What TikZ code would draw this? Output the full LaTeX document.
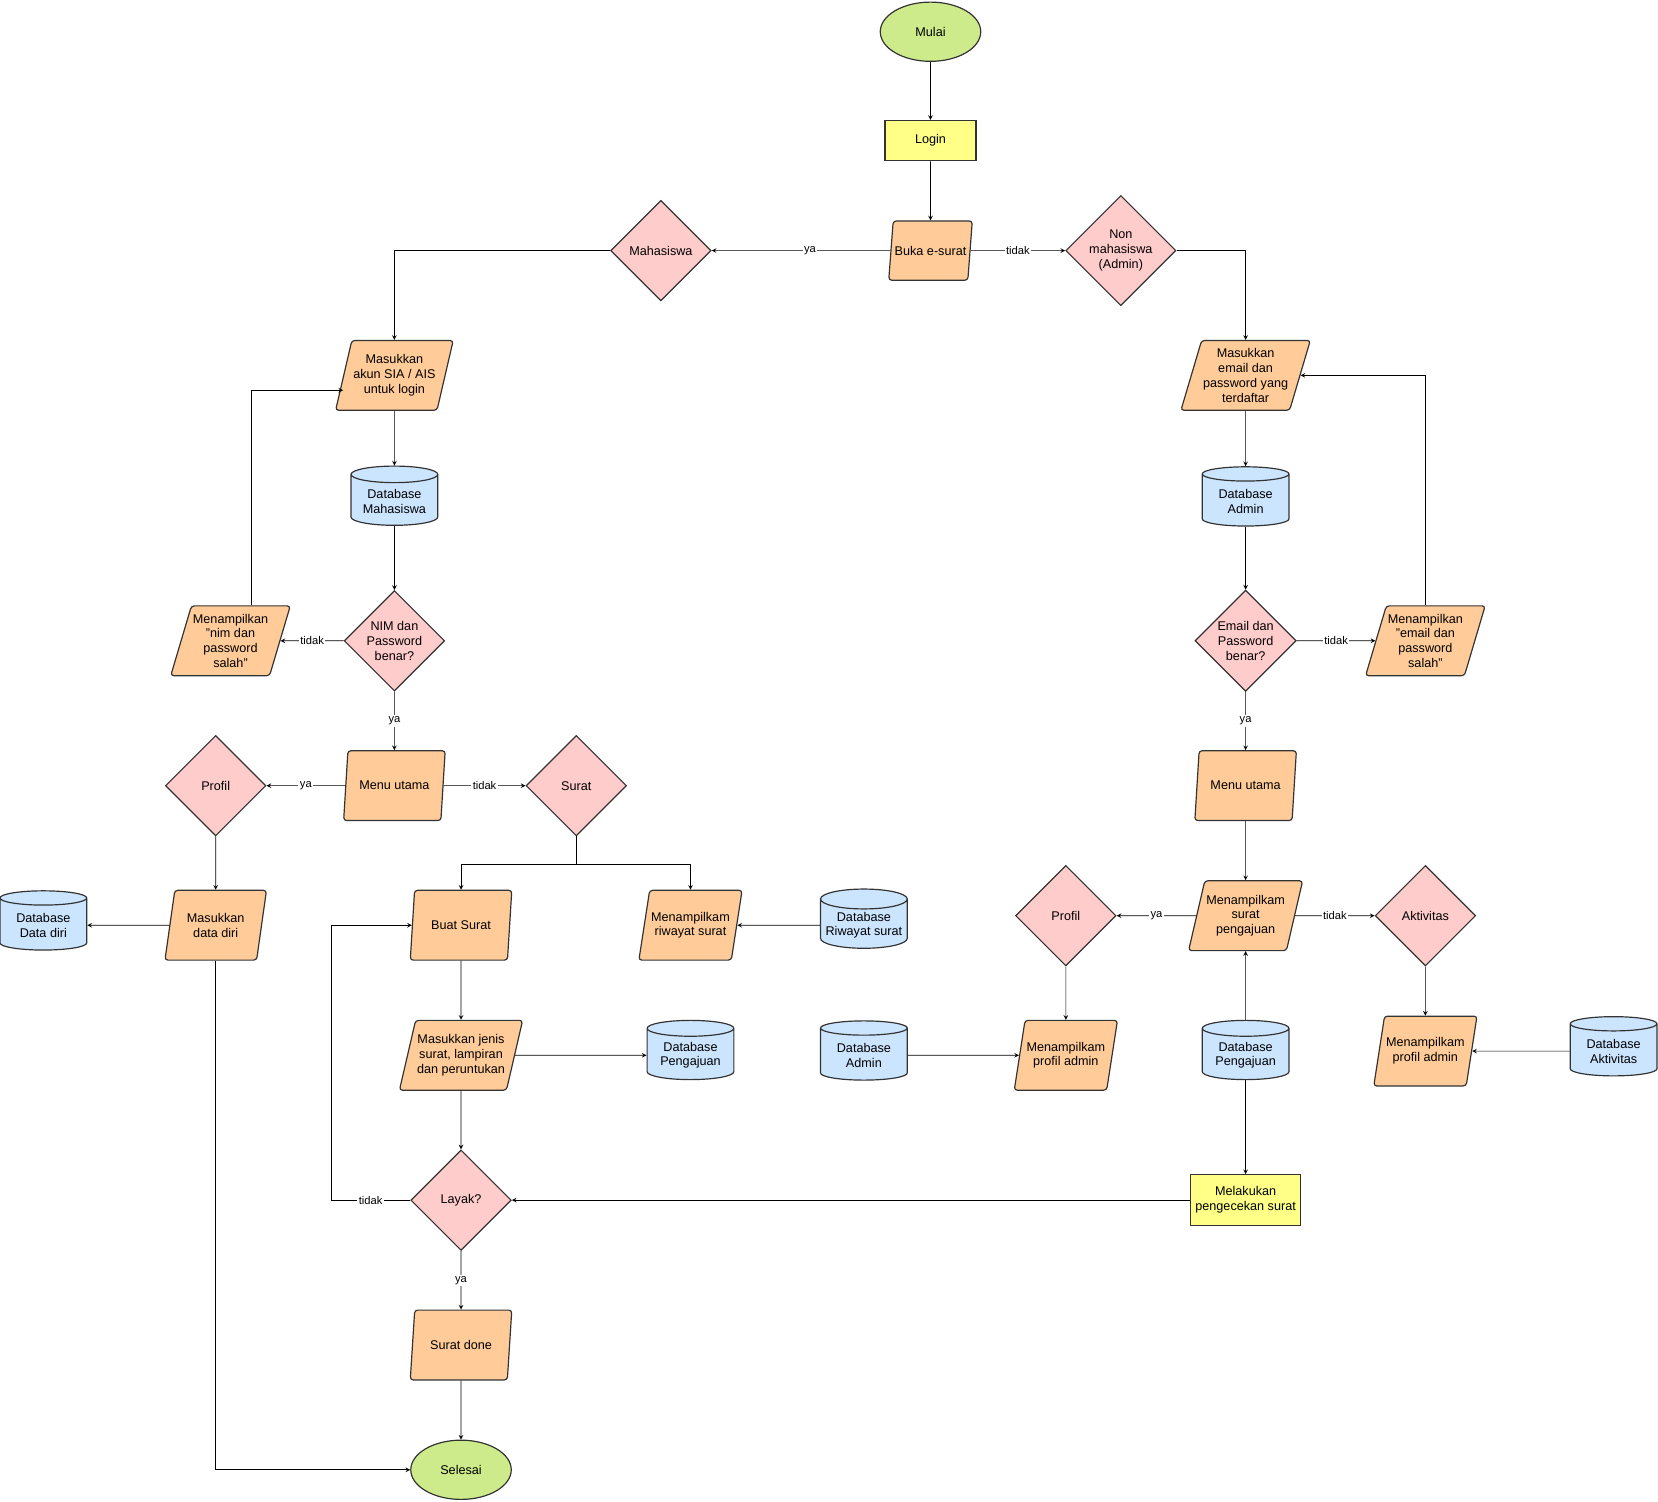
\documentclass[tikz,border=0pt]{standalone}
\usepackage{fontspec}
\setmainfont{Liberation Sans}
\usetikzlibrary{positioning, shapes.geometric, arrows}
\definecolor{cgreen}{HTML}{CDEB8B}
\definecolor{cyellow}{HTML}{FFFF88}
\definecolor{corange}{HTML}{FFCC99}
\definecolor{cpink}{HTML}{FFCCCC}
\definecolor{cblue}{HTML}{CCE5FF}
\tikzset{
  base/.style={draw=black!80, thick, align=center, font=\fontsize{8.5}{10}\selectfont, inner sep=1pt},
  term/.style={base, ellipse, fill=cgreen, minimum width=2.375cm, minimum height=1.4cm},
  proc/.style={base, rectangle, fill=cyellow},
  io/.style={base, trapezium, trapezium left angle=70, trapezium right angle=110, trapezium stretches body, rounded corners=2pt, fill=corange, minimum width=2.4cm, minimum height=1.65cm},
  dec/.style={base, diamond, fill=cpink, minimum width=2.375cm, minimum height=2.375cm},
  db/.style={base, cylinder, shape border rotate=90, aspect=0.25, fill=cblue, minimum width=2.05cm, minimum height=1.4cm},
  lbl/.style={fill=white, inner sep=1pt, font=\fontsize{7.5}{9}\selectfont},
  arr/.style={->, >=stealth, thin}
}
\begin{document}
\begin{tikzpicture}[x=0.025cm, y=-0.025cm]
  \useasboundingbox (0,0) rectangle (1568,1420);
  % main line
  \node[term] (mulai) at (880,30) {Mulai};
  \node[proc, minimum width=2.15cm, minimum height=0.95cm] (login) at (880,133) {Login};
  \node[io, minimum width=1.9cm, minimum height=1.4cm] (buka) at (880,237) {Buka e-surat};
  \node[dec] (mhs) at (625,237) {Mahasiswa};
  \node[dec] (non) at (1060,237) {Non\\mahasiswa\\(Admin)};
  % mahasiswa side
  \node[io] (masuk1) at (373,355) {Masukkan\\akun SIA / AIS\\untuk login};
  \node[db] (dbmhs) at (373,474) {Database\\Mahasiswa};
  \node[dec] (nim) at (373,606) {NIM dan\\Password\\benar?};
  \node[io] (salah1) at (218,606) {Menampilkan\\"nim dan\\password\\salah"};
  \node[io] (menu1) at (373,743) {Menu utama};
  \node[dec] (profil1) at (204,743) {Profil};
  \node[dec] (surat) at (545,743) {Surat};
  \node[io] (datadiri) at (204,875) {Masukkan\\data diri};
  \node[db] (dbdiri) at (41,875) {Database\\Data diri};
  \node[io] (buat) at (436,875) {Buat Surat};
  \node[io] (riwayat) at (653,875) {Menampilkam\\riwayat surat};
  \node[db] (dbriwayat) at (817,875) {Database\\Riwayat surat};
  \node[io] (jenis) at (436,998) {Masukkan jenis\\surat, lampiran\\dan peruntukan};
  \node[db] (dbpeng1) at (653,998) {Database\\Pengajuan};
  \node[dec] (layak) at (436,1135) {Layak?};
  \node[io] (done) at (436,1272) {Surat done};
  \node[term] (selesai) at (436,1390) {Selesai};
  % admin side
  \node[io] (masuk2) at (1178,355) {Masukkan\\email dan\\password yang\\terdaftar};
  \node[db] (dbadmin) at (1178,474) {Database\\Admin};
  \node[dec] (email) at (1178,606) {Email dan\\Password\\benar?};
  \node[io] (salah2) at (1348,606) {Menampilkan\\"email dan\\password\\salah"};
  \node[io] (menu2) at (1178,743) {Menu utama};
  \node[io] (tampil) at (1178,866) {Menampilkam\\surat\\pengajuan};
  \node[dec] (profil2) at (1008,866) {Profil};
  \node[dec] (aktiv) at (1348,866) {Aktivitas};
  \node[io] (profadm) at (1008,998) {Menampilkam\\profil admin};
  \node[db] (dbadm2) at (817,998) {Database\\Admin};
  \node[db] (dbpeng2) at (1178,998) {Database\\Pengajuan};
  \node[io] (profakt) at (1348,994) {Menampilkam\\profil admin};
  \node[db] (dbakt) at (1526,994) {Database\\Aktivitas};
  \node[proc, minimum width=2.6cm, minimum height=1.2cm] (cek) at (1178,1135) {Melakukan\\pengecekan surat};
  \coordinate (split) at (545,817);
  \coordinate (back) at (313,1135);
  % connectors
  \draw[arr] (mulai) -- (login);
  \draw[arr] (login) -- (buka);
  \draw[arr] (buka) -- node[lbl, pos=0.45] {ya} (mhs);
  \draw[arr] (buka) -- node[lbl] {tidak} (non);
  \draw[arr] (mhs.west) -| (masuk1.north);
  \draw[arr] (non.east) -| (masuk2.north);
  \draw[arr] (masuk1) -- (dbmhs);
  \draw[arr] (dbmhs) -- (nim);
  \draw[arr] (nim) -- node[lbl] {tidak} (salah1);
  \draw[arr] ([xshift=14]salah1.north) |- ([yshift=-10]masuk1.west);
  \draw[arr] (nim) -- node[lbl] {ya} (menu1);
  \draw[arr] (menu1) -- node[lbl] {ya} (profil1);
  \draw[arr] (menu1) -- node[lbl] {tidak} (surat);
  \draw[arr] (profil1) -- (datadiri);
  \draw[arr] (datadiri) -- (dbdiri);
  \draw[arr] (datadiri.south) |- (selesai.west);
  \draw (surat.south) -- (split);
  \draw[arr] (split) -| (buat.north);
  \draw[arr] (split) -| (riwayat.north);
  \draw[arr] (dbriwayat) -- (riwayat);
  \draw[arr] (buat) -- (jenis);
  \draw[arr] (jenis) -- (dbpeng1);
  \draw[arr] (jenis) -- (layak);
  \draw[arr] (layak) -- node[lbl] {tidak} (back) |- (buat.west);
  \draw[arr] (layak) -- node[lbl] {ya} (done);
  \draw[arr] (done) -- (selesai);
  \draw[arr] (masuk2) -- (dbadmin);
  \draw[arr] (dbadmin) -- (email);
  \draw[arr] (email) -- node[lbl] {tidak} (salah2);
  \draw[arr] (salah2.north) |- (masuk2.east);
  \draw[arr] (email) -- node[lbl] {ya} (menu2);
  \draw[arr] (menu2) -- (tampil);
  \draw[arr] (tampil) -- node[lbl] {ya} (profil2);
  \draw[arr] (tampil) -- node[lbl] {tidak} (aktiv);
  \draw[arr] (profil2) -- (profadm);
  \draw[arr] (dbadm2) -- (profadm);
  \draw[arr] (dbpeng2) -- (tampil);
  \draw[arr] (dbpeng2) -- (cek);
  \draw[arr] (cek) -- (layak);
  \draw[arr] (aktiv) -- (profakt);
  \draw[arr] (dbakt) -- (profakt);
\end{tikzpicture}
\end{document}
